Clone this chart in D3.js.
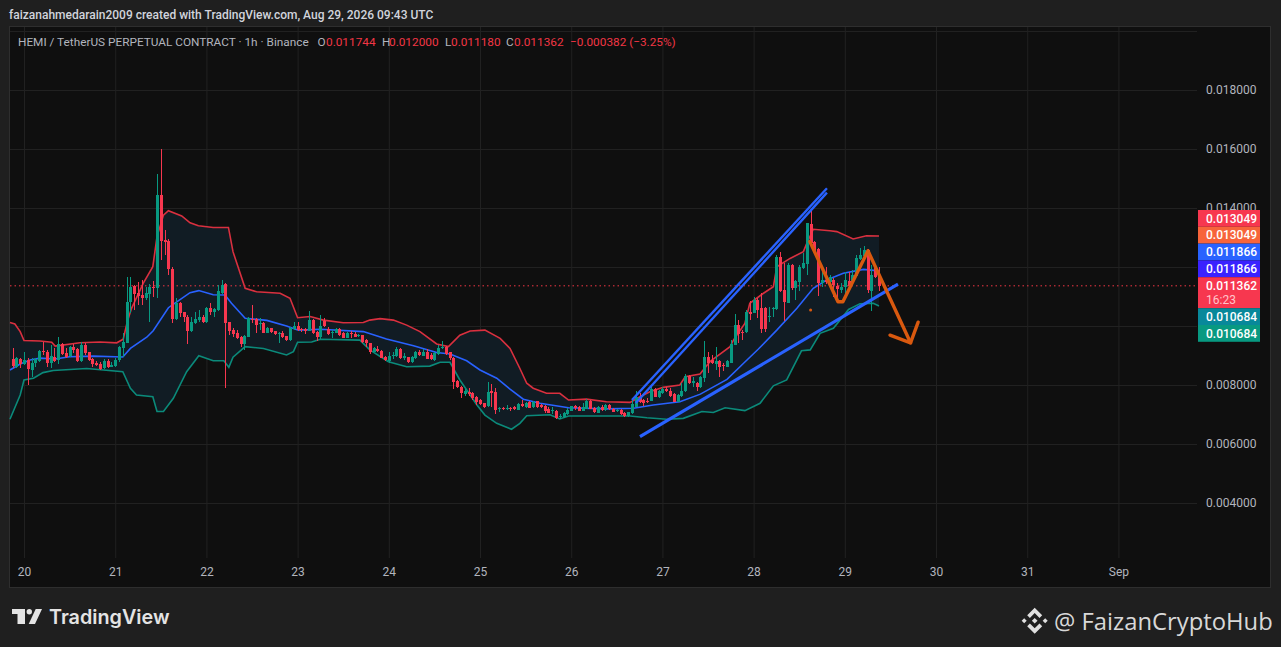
<!DOCTYPE html>
<html>
<head>
<meta charset="utf-8">
<script src="https://cdn.jsdelivr.net/npm/d3@7"></script>
<style>
    html, body { margin: 0; padding: 0; background: #1f1f1f; overflow: hidden; }
    text { font-family: Roboto, sans-serif; }
</style>
</head>
<body>
<div id="app"></div>
<script>
// all prices are in units of 0.00001, hours are counted from Aug 20 00:00
const PRICE_UNIT = 0.00001;
const firstHour = -3;

const opens = [888,862,888,871,885,851,876,882,916,912,873,895,885,939,907,898,928,921,882,936,911,887,875,871,856,882,862,864,885,924,
    944,1080,1137,1111,1105,1094,1108,1133,1130,1444,1291,1288,1193,1024,1079,1047,1032,984,1011,1019,1030,1014,1060,1047,1054,1113,1142,1012,986,977,
    964,939,964,1025,1023,1007,1010,976,993,983,975,977,965,952,990,999,991,990,984,1020,981,
    962,1018,990,975,977,989,975,960,977,973,967,968,952,941,912,921,915,896,882,898,898,922,890,894,878,890,913,900,911,902,885,905,924,930,911,890,813,793,769,777,772,760,749,738,729,780,777,717,722,717,722,725,715,734,724,743,724,745,732,729,717,712,713,690,690,702,713,729,725,713,720,746,723,706,727,715,732,720,713,715,706,696,
    704,726,760,749,747,747,785,758,772,786,781,769,743,763,778,830,808,808,792,824,894,885,871,882,869,862,876,937,1003,981,980,1047,1045,1088,1060,1060,1029,1059,1058,1233,1122,1079,1207,1130,1150,1197,1210,1346,1286,1260,1145,1156,1150,1156,1135,1122,1131,1154,1150,1169,1226,1237,1258,1120,1195,1174];
const highs = [924,894,890,911,890,890,890,919,947,919,936,924,964,943,924,932,939,924,947,941,913,890,882,879,887,887,879,890,932,975,
    1167,1165,1139,1150,1156,1133,1142,1154,1515,1599,1325,1295,1201,1094,1082,1049,1037,1032,1047,1054,1037,1065,1077,1060,1139,1156,1147,1015,992,986,
    966,969,1032,1071,1026,1026,1012,998,994,984,981,984,967,995,1012,1015,994,994,1051,1023,983,
    1037,1026,995,986,993,993,981,981,984,980,973,971,956,943,930,932,919,899,913,911,930,925,907,896,897,915,919,921,921,907,911,936,949,932,913,896,817,797,786,789,775,763,751,740,809,803,789,727,727,732,727,730,738,749,741,746,746,746,736,732,724,727,715,702,708,721,730,732,729,738,751,749,727,730,732,734,736,723,720,717,710,710,
    749,781,772,751,755,792,789,783,792,794,789,772,768,806,836,833,828,811,830,948,913,902,928,885,873,885,952,1041,1020,986,1054,1086,1097,1094,1113,1063,1063,1065,1241,1252,1212,1212,1209,1156,1207,1246,1350,1395,1288,1263,1195,1199,1173,1162,1145,1145,1184,1184,1190,1241,1263,1271,1260,1207,1199,1200];
const lows = [859,859,858,868,800,828,862,879,902,862,856,879,871,902,890,896,907,879,879,902,882,862,866,851,853,858,860,862,879,896,
    941,1043,1054,1071,1071,1088,1015,1099,1094,1224,1241,1173,1011,1020,1032,1015,939,981,1007,1015,1009,1011,1037,1032,1052,1108,791,969,962,955,
    930,919,962,1011,977,986,975,975,977,969,941,958,950,950,986,984,981,973,982,973,950,
    955,995,969,958,975,967,958,958,958,962,964,943,930,905,911,911,890,881,876,888,896,887,885,873,876,887,899,898,887,885,881,902,922,902,885,785,789,757,763,763,749,732,732,723,727,727,702,710,715,715,713,715,714,727,722,721,722,723,723,706,704,702,686,684,688,699,711,715,711,711,717,717,704,704,712,713,715,707,708,699,690,690,
    702,724,740,729,738,745,758,755,769,776,758,741,741,760,776,803,794,779,789,811,839,870,851,828,848,860,873,934,941,952,977,1020,1043,1026,975,981,1015,1029,1054,1116,1018,1077,1122,1088,1120,1192,1173,1275,1252,1102,1133,1142,1133,1099,1088,1111,1105,1128,1147,1167,1224,1233,1111,1052,1162,1118];
const closes = [866,890,871,885,854,876,888,915,911,876,898,882,939,905,896,928,919,882,936,907,885,871,868,854,882,862,867,885,929,946,
    1080,1132,1108,1102,1096,1111,1132,1128,1444,1288,1286,1193,1023,1077,1043,1029,984,1014,1024,1030,1014,1062,1049,1058,1119,1139,1011,984,973,960,
    939,966,1027,1019,1003,1010,977,993,981,973,977,962,952,992,999,986,985,984,1020,977,962,
    1000,1000,973,981,989,971,960,977,975,964,969,947,941,911,926,914,893,885,898,901,922,890,899,877,896,913,902,912,889,888,907,925,930,904,890,811,792,772,781,768,757,743,736,727,777,774,715,722,717,722,717,720,736,730,738,722,743,724,727,711,706,715,688,695,706,715,728,722,713,724,746,720,707,727,715,732,717,710,715,702,695,707,
    736,760,743,740,743,785,760,779,785,780,763,743,766,780,830,808,812,792,826,894,876,876,880,862,866,881,939,1003,973,977,1047,1041,1088,1054,989,989,1034,1061,1235,1120,1082,1207,1128,1154,1199,1212,1348,1280,1255,1147,1156,1148,1167,1139,1124,1133,1156,1136,1173,1229,1241,1258,1122,1173,1165,1136];

// bollinger bands, [hour, price]
const upperBand = [[-3.7,1012],[-2.4,1007],[-1,981],[0,951],[4.2,949],[7.3,945],[8.2,932],[14.7,943],[20,946],[24.4,943],[26.1,955],[27.2,1015],[28.3,1060],[31.4,1145],[33.9,1201],[35,1303],[36.7,1376],[38,1391],[41.5,1373],[43.7,1350],[45.9,1340],[49.8,1334],[53.8,1334],[55,1252],[58.2,1128],[61.2,1116],[67.4,1111],[70,1094],[72,1028],[75.3,1032],[78.8,1020],[84,1011],[89.3,1012],[91,1020],[93.7,1025],[97.2,1020],[100.7,1003],[104.2,981],[108.6,939],[111.7,930],[114.7,969],[117.4,983],[121.3,986],[125.3,958],[127.9,924],[130.5,856],[132.3,806],[134,789],[137.5,772],[141,772],[143.3,749],[148,752],[153.3,743],[159.5,741],[162.1,760],[164.7,777],[168.2,792],[172.6,800],[174,828],[177.9,837],[180.5,879],[185.8,930],[186.7,952],[189.7,1009],[191,1077],[194.6,1111],[197.2,1133],[198.1,1201],[201.6,1229],[205.1,1252],[206,1280],[207.7,1328],[212.1,1323],[213.9,1320],[218.2,1295],[221.7,1306],[225,1305]];
const basisBand = [[-3.7,851],[-1,871],[1.6,885],[4.2,891],[8.2,888],[12,896],[18.2,898],[26,895],[28,924],[32.3,962],[34,984],[38,1062],[40.2,1082],[43.7,1113],[46,1120],[49.8,1106],[52.9,1105],[54.6,1077],[58.2,1026],[63.9,1019],[69.1,1000],[72.2,986],[78,989],[89.3,981],[95.4,956],[102.5,933],[108.6,910],[112.1,905],[116.5,882],[120,851],[124.4,823],[127.9,786],[131.4,752],[135.8,738],[143.3,723],[153.3,719],[160.4,721],[165.6,732],[172.6,743],[178,769],[185,819],[189.3,873],[193.2,921],[198.1,986],[203.4,1060],[207.7,1128],[211.2,1156],[215.6,1179],[220.9,1192],[225,1187]];
const lowerBand = [[-3.7,684],[-1,766],[0,817],[2.5,823],[5,842],[7.7,849],[16.5,856],[26,845],[28,789],[29.6,766],[33.9,760],[35,710],[36.7,710],[39.3,755],[42.8,845],[46,899],[49.8,882],[52.6,882],[53.9,860],[55,894],[58.2,930],[63,924],[69.1,902],[70.9,913],[72,945],[75.7,946],[78,955],[88.4,952],[91,919],[95.9,879],[100.7,862],[106.8,864],[109.5,877],[112.1,877],[114.7,817],[119.2,732],[121.3,698],[124.4,670],[128.3,650],[130.5,670],[132.3,696],[138.4,699],[141,685],[143.3,695],[159.5,695],[163.9,689],[169.1,684],[173.5,687],[178.4,710],[181.4,707],[184.5,723],[189.7,713],[193.7,738],[197.2,797],[200.7,817],[204.6,916],[206.9,919],[209.5,975],[213,992],[217,1056],[220,1075],[223.5,1077],[225,1068]];

// hand drawn lines on the chart
const channelTop = [[160,749],[211.3,1467]];
const channelTopInner = [[161,739],[211.3,1452]];
const channelBottom = [[162.1,625],[230,1142]];
const orangeZigzag = [[206.8,1286],[214.2,1082],[215.5,1082],[222.1,1255],[233.3,943]];
const orangeHead = [[235.3,1013],[233.3,943],[227.9,969]];
const orangeDot = [207,1054];

const gridTicks = [0.02, 0.018, 0.016, 0.014, 0.012, 0.01, 0.008, 0.006, 0.004];
// 0.012 and 0.010 are hidden behind the price tags
const priceTicks = [0.018, 0.016, 0.014, 0.008, 0.006, 0.004];
const dayHours = [0, 24, 48, 72, 96, 120, 144, 168, 192, 216, 240, 264, 288];
const dayLabels = ["20", "21", "22", "23", "24", "25", "26", "27", "28", "29", "30", "31", "Sep"];

const lastPrice = 0.011362;
const sideLabels = ["0.013049", "0.013049", "0.011866", "0.011866", "0.011362", "0.010684", "0.010684"];
const sideColors = ["#f7374f", "#f7643a", "#2962ff", "#3a22ff", "#f7374f", "#08889a", "#089981"];

const legendTitle = "HEMI / TetherUS PERPETUAL CONTRACT · 1h · Binance";
const legendKeys = ["O", "H", "L", "C"];
const legendValues = ["0.011744", "0.012000", "0.011180", "0.011362"];

const RED = "#f7374f";
const GREEN = "#089981";
const ORANGE = "#d9590f";
const BLUE = "#2962ff";

const draw = () => {

    const width = 1281;
    const height = 647;

    const svg = d3.select('#app')
        .append('svg')
        .attr('width', width)
        .attr('height', height)
        .style('display', 'block');

    const x = d3.scaleLinear().domain([0, 288]).range([24, 1118.4]);
    const y = d3.scaleLinear().domain([0.018, 0.004]).range([90, 503]);
    const py = v => y(v * PRICE_UNIT);

    svg.append('rect')
        .attr('width', width)
        .attr('height', height)
        .attr('fill', '#1f1f1f');

    svg.append('rect')
        .attr('x', 9.5)
        .attr('y', 26.5)
        .attr('width', 1261)
        .attr('height', 561)
        .attr('fill', '#0f0f0f')
        .attr('stroke', '#2e2e2e');

    // grid
    const yGrid = svg.append('g')
        .attr('transform', 'translate(10,0)')
        .call(d3.axisRight(y).tickValues(gridTicks).tickSize(1187).tickFormat(''));
    yGrid.select('.domain').remove();
    yGrid.selectAll('line').attr('stroke', '#212121');

    const xGrid = svg.append('g')
        .attr('transform', 'translate(0,27)')
        .call(d3.axisBottom(x).tickValues(dayHours).tickSize(531).tickFormat(''));
    xGrid.select('.domain').remove();
    xGrid.selectAll('line').attr('stroke', '#212121');

    // axis labels
    const yAxis = svg.append('g')
        .attr('transform', 'translate(1197,0)')
        .call(d3.axisRight(y).tickValues(priceTicks).tickSize(0).tickPadding(9).tickFormat(d3.format('.6f')));
    yAxis.select('.domain').remove();
    yAxis.selectAll('text').attr('fill', '#b2b5be').style('font-size', '12px').style('font-family', 'Roboto, sans-serif');

    const xAxis = svg.append('g')
        .attr('transform', 'translate(0,558)')
        .call(d3.axisBottom(x).tickValues(dayHours).tickSize(0).tickPadding(9).tickFormat((d, i) => dayLabels[i]));
    xAxis.select('.domain').remove();
    xAxis.selectAll('text').attr('fill', '#b2b5be').style('font-size', '12px').style('font-family', 'Roboto, sans-serif');

    // band fill
    const line = d3.line().x(d => x(d[0])).y(d => py(d[1]));
    svg.append('path')
        .attr('d', line(upperBand.concat(lowerBand.slice().reverse())))
        .attr('fill', '#111c24');

    // last price line
    svg.append('line')
        .attr('x1', 10)
        .attr('x2', 1197)
        .attr('y1', y(lastPrice))
        .attr('y2', y(lastPrice))
        .attr('stroke', '#f23645')
        .attr('stroke-dasharray', '1.5 3');

    const bandLines = [[upperBand, '#d9303f'], [lowerBand, '#0b8a7a'], [basisBand, BLUE]];
    svg.selectAll('path.band')
        .data(bandLines)
        .enter()
        .append('path')
        .attr('class', 'band')
        .attr('d', d => line(d[0]))
        .attr('fill', 'none')
        .attr('stroke', d => d[1])
        .attr('stroke-width', 1.6);

    // candles
    const candles = opens.map((o, i) => ({ h: firstHour + i, o: o, hi: highs[i], lo: lows[i], c: closes[i] }));
    const candle = svg.append('g')
        .attr('shape-rendering', 'crispEdges')
        .selectAll('g')
        .data(candles)
        .enter()
        .append('g')
        .attr('fill', d => d.c >= d.o ? GREEN : RED)
        .attr('stroke', d => d.c >= d.o ? GREEN : RED);

    candle.append('line')
        .attr('x1', d => Math.round(x(d.h)) + 0.5)
        .attr('x2', d => Math.round(x(d.h)) + 0.5)
        .attr('y1', d => py(d.hi))
        .attr('y2', d => py(d.lo))
        .attr('stroke-width', 1);

    candle.append('rect')
        .attr('x', d => Math.round(x(d.h)) - 1)
        .attr('width', 3)
        .attr('y', d => py(Math.max(d.o, d.c)))
        .attr('height', d => Math.max(1, py(Math.min(d.o, d.c)) - py(Math.max(d.o, d.c))))
        .attr('stroke', 'none');

    // drawings
    [channelTop, channelTopInner].forEach(d => {
        svg.append('path').attr('d', line(d)).attr('fill', 'none')
            .attr('stroke', BLUE).attr('stroke-width', 2.4);
    });
    svg.append('path').attr('d', line(channelBottom)).attr('fill', 'none')
        .attr('stroke', BLUE).attr('stroke-width', 3.2);
    [orangeZigzag, orangeHead].forEach(d => {
        svg.append('path').attr('d', line(d)).attr('fill', 'none')
            .attr('stroke', ORANGE).attr('stroke-width', 3.4).attr('stroke-linejoin', 'round').attr('stroke-linecap', 'round');
    });
    svg.append('circle')
        .attr('cx', x(orangeDot[0]))
        .attr('cy', py(orangeDot[1]))
        .attr('r', 1.5)
        .attr('fill', ORANGE);

    // price tags on the right
    let tagY = 210;
    sideLabels.forEach((d, i) => {
        const big = i === 4;
        const tagH = big ? 31 : 16.8;
        svg.append('rect')
            .attr('x', 1198)
            .attr('y', tagY)
            .attr('width', 62)
            .attr('height', tagH)
            .attr('fill', sideColors[i]);
        svg.append('text')
            .attr('x', 1206)
            .attr('y', tagY + 12.6)
            .attr('fill', '#ffffff')
            .attr('font-size', 12)
            .attr('font-weight', 500)
            .text(d);
        if (big) {
            svg.append('text')
                .attr('x', 1206)
                .attr('y', tagY + 26.5)
                .attr('fill', '#ffc4ca')
                .attr('font-size', 12)
                .text('16:23');
        }
        tagY += tagH;
    });

    // header and legend
    svg.append('text')
        .attr('x', 9)
        .attr('y', 19)
        .attr('fill', '#d1d4dc')
        .attr('font-size', 12)
        .attr('font-weight', 500)
        .text('faizanahmedarain2009 created with TradingView.com, Aug 29, 2026 09:43 UTC');

    const legend = svg.append('g').attr('font-size', 11.8);
    legend.append('text')
        .attr('x', 18).attr('y', 46).attr('fill', '#b2b5be')
        .text(legendTitle);

    const keyX = [317.5, 382, 445, 506];
    const valueX = [326, 389, 451, 514];
    legendKeys.forEach((k, i) => {
        legend.append('text').attr('x', keyX[i]).attr('y', 46).attr('fill', '#b2b5be').text(k);
        legend.append('text').attr('x', valueX[i]).attr('y', 46).attr('fill', '#f23645').text(legendValues[i]);
    });
    legend.append('text').attr('x', 570).attr('y', 46).attr('fill', '#f23645').text('−0.000382 (−3.25%)');

    // tradingview logo
    const logo = svg.append('g').attr('fill', '#e4e4e4');
    logo.append('path').attr('d', 'M12 609H25V624H17.5V614H12Z');
    logo.append('circle').attr('cx', 29.3).attr('cy', 611.7).attr('r', 2.7);
    logo.append('path').attr('d', 'M35.7 609H42L35 624H28.7Z');
    svg.append('text')
        .attr('x', 49)
        .attr('y', 623.5)
        .attr('fill', '#e4e4e4')
        .attr('font-size', 19.8)
        .attr('font-weight', 600)
        .style('font-family', 'Inter, sans-serif')
        .text('TradingView');

    // watermark
    const mark = svg.append('g').attr('fill', '#e0e0e0').attr('transform', 'translate(1034.7,620.7)');
    mark.append('path').attr('d', 'M0 -13L7.5 -5.5L4.8 -2.8L0 -7.6L-4.8 -2.8L-7.5 -5.5Z');
    mark.append('path').attr('d', 'M0 13L7.5 5.5L4.8 2.8L0 7.6L-4.8 2.8L-7.5 5.5Z');
    mark.append('path').attr('d', 'M0 -2.8L2.8 0L0 2.8L-2.8 0Z');
    mark.append('path').attr('d', 'M-10.5 -2.5L-8 0L-10.5 2.5L-13 0Z');
    mark.append('path').attr('d', 'M10.5 -2.5L13 0L10.5 2.5L8 0Z');
    svg.append('text')
        .attr('x', 1054)
        .attr('y', 629.5)
        .attr('fill', '#d8d8d8')
        .attr('font-size', 23.8)
        .style('font-family', '"Open Sans", sans-serif')
        .text('@ FaizanCryptoHub');
};

draw();
</script>
</body>
</html>
